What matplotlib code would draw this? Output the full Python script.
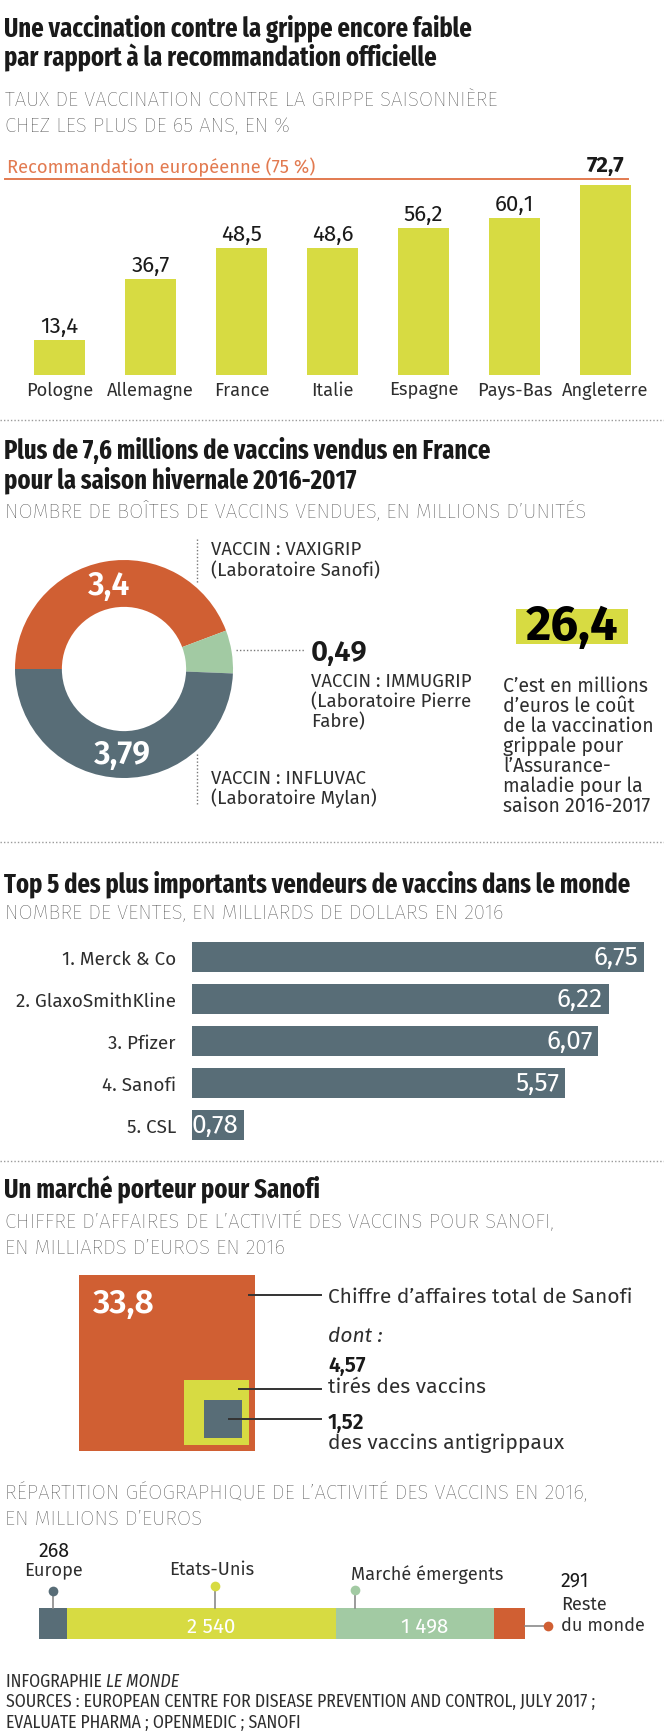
import numpy as np
import matplotlib
matplotlib.use('Agg')
import matplotlib.pyplot as plt
from matplotlib.patches import Rectangle

# --- données ---
pays = ['Pologne', 'Allemagne', 'France', 'Italie', 'Espagne', 'Pays-Bas', 'Angleterre']
taux = [13.4, 36.7, 48.5, 48.6, 56.2, 60.1, 72.7]
recommandation = 75

vaccins = ['VAXIGRIP', 'IMMUGRIP', 'INFLUVAC']
laboratoires = ['Sanofi', 'Pierre Fabre', 'Mylan']
boites = [3.4, 0.49, 3.79]
cout_assurance = 26.4

vendeurs = ['1. Merck & Co', '2. GlaxoSmithKline', '3. Pfizer', '4. Sanofi', '5. CSL']
ventes = [6.75, 6.22, 6.07, 5.57, 0.78]

ca_libelles = ['Chiffre d\u2019affaires total de Sanofi', 'tirés des vaccins', 'des vaccins antigrippaux']
ca_sanofi = [33.8, 4.57, 1.52]

regions = ['Europe', 'Etats-Unis', 'Marché émergents', 'Reste du monde']
activite = [268, 2540, 1498, 291]

# --- couleurs / polices ---
YELLOW = '#d7db42'
ORANGE = '#d05f33'
SLATE = '#586d77'
GREEN = '#a2caa3'
REC = '#e27a50'
DARK = '#1a1a1a'
TXT = '#2e2e2e'
GRAY = '#454545'
FIRA = ['Fira Sans', 'DejaVu Sans']
FIRA_C = ['Fira Sans Condensed', 'DejaVu Sans']
FIRA_XC = ['Fira Sans Extra Condensed', 'Fira Sans Condensed', 'DejaVu Sans']

W, H = 664, 1733
fig = plt.figure(figsize=(W / 100, H / 100), dpi=100)
canvas = fig.add_axes([0, 0, 1, 1])
canvas.set_xlim(0, W)
canvas.set_ylim(H, 0)
canvas.axis('off')
renderer = fig.canvas.get_renderer()


def px_axes(x0, y0, x1, y1):
    return fig.add_axes([x0 / W, 1 - y1 / H, (x1 - x0) / W, (y1 - y0) / H])


def fitted(ref, width, **kw):
    # taille de police pour que `ref` fasse `width` pixels de large
    t = canvas.text(0, 0, ref, fontsize=10, **kw)
    w = t.get_window_extent(renderer).width
    t.remove()
    return dict(kw, fontsize=10 * width / w)


def fr(v):
    return str(v).replace('.', ',')


def txt(x, y, s, st, **kw):
    kw.setdefault('va', 'baseline')
    return canvas.text(x, y, s, **st, **kw)


def title(y, lines, width):
    st = fitted(lines[0], width, family=FIRA_XC, fontweight='bold', color=DARK)
    for k, line in enumerate(lines):
        txt(4, y + 29 * k, line, st)


def separator(y):
    canvas.plot([0, W], [y, y], color='#9a9a9a', lw=1, ls=(0, (1, 1.5)))


S = fitted('NOMBRE DE BOÎTES DE VACCINS VENDUES, EN MILLIONS D\u2019UNITÉS', 584,
           family=FIRA, fontweight='light', color=GRAY)
F = fitted('SOURCES : EUROPEAN CENTRE FOR DISEASE PREVENTION AND CONTROL, JULY 2017 ;', 587,
           family=FIRA_C, color=TXT)

# ============ 1. taux de vaccination ============
title(37, ['Une vaccination contre la grippe encore faible',
           'par rapport à la recommandation officielle'], 468)
txt(5, 106, 'TAUX DE VACCINATION CONTRE LA GRIPPE SAISONNIÈRE', S)
txt(5, 132, 'CHEZ LES PLUS DE 65 ANS, EN %', S)

CAT = fitted('Allemagne', 86.5, family=FIRA, color=TXT)
VAL = fitted('13,4', 38, family=FIRA, color=DARK)
ax1 = px_axes(14, 180, 651, 376)
ax1.set_xlim(-0.5, len(pays) - 0.5)
ax1.set_ylim(0, recommandation)
ax1.bar(range(len(pays)), taux, width=0.55, color=YELLOW)
ax1.axhline(recommandation, xmin=-9 / 637, xmax=614 / 637, color=REC, lw=1.4, clip_on=False)
imax = int(np.argmax(taux))
for i, v in enumerate(taux):
    bold = i == imax
    # la valeur max passe au-dessus de la ligne de recommandation
    ax1.annotate(fr(v), (i, recommandation if bold else v), xytext=(0, 6),
                 textcoords='offset points', ha='center', va='baseline',
                 fontweight='bold' if bold else 'normal', **VAL)
ax1.set_xticks(range(len(pays)), pays, **CAT)
ax1.tick_params(axis='x', length=0, pad=4)
ax1.set_yticks([])
for s in ax1.spines.values():
    s.set_visible(False)
ax1.patch.set_alpha(0)
RECS = fitted('Recommandation européenne (75 %)', 308, family=FIRA, color=REC)
txt(7, 173, f'Recommandation européenne ({recommandation} %)', RECS)

separator(421)

# ============ 2. donut ============
title(459, ['Plus de 7,6 millions de vaccins vendus en France',
            'pour la saison hivernale 2016-2017'], 488)
txt(5, 518, 'NOMBRE DE BOÎTES DE VACCINS VENDUES, EN MILLIONS D\u2019UNITÉS', S)

RING = fitted('3,79', 57, family=FIRA, fontweight='semibold', color='white')
axd = px_axes(15, 561, 233, 779)
wedges, _ = axd.pie(boites, colors=[ORANGE, GREEN, SLATE], startangle=180,
                    counterclock=False, radius=1,
                    wedgeprops=dict(width=0.43, edgecolor='none'))
axd.set_xlim(-1, 1)
axd.set_ylim(-1, 1)
for w, v in zip(wedges, boites):
    if v < 1:
        continue
    a = np.deg2rad((w.theta1 + w.theta2) / 2)
    axd.text(0.785 * np.cos(a), 0.785 * np.sin(a), fr(v), ha='center', va='center', **RING)

dot = dict(color='#777777', lw=1, ls=(0, (1, 1.5)))
canvas.plot([197, 197], [540, 585], **dot)
canvas.plot([197, 197], [755, 807], **dot)
canvas.plot([236, 304], [651, 651], **dot)

LAB = fitted('(Laboratoire Sanofi)', 168, family=FIRA, color=TXT)
BIGN = fitted('0,49', 57, family=FIRA, fontweight='semibold', color=DARK)
txt(211, 555, f'VACCIN : {vaccins[0]}', LAB)
txt(211, 576, f'(Laboratoire {laboratoires[0]})', LAB)
txt(311, 661, fr(boites[1]), BIGN)
txt(311, 687, f'VACCIN : {vaccins[1]}', LAB)
txt(311, 707, '(Laboratoire Pierre', LAB)
txt(311, 727, 'Fabre)', LAB)
txt(211, 784, f'VACCIN : {vaccins[2]}', LAB)
txt(211, 804, f'(Laboratoire {laboratoires[2]})', LAB)

canvas.add_patch(Rectangle((516, 610), 112, 35, color=YELLOW, lw=0))
BIG = fitted('26,4', 92, family=FIRA, fontweight='bold', color='black')
txt(572, 627, fr(cout_assurance), BIG, ha='center', va='center')
PAR = fitted('de la vaccination', 150, family=FIRA, color=TXT)
para = ['C\u2019est en millions', 'd\u2019euros le coût', 'de la vaccination',
        'grippale pour', 'l\u2019Assurance-', 'maladie pour la', 'saison 2016-2017']
for k, line in enumerate(para):
    txt(503, 692 + 20 * k, line, PAR)

separator(843)

# ============ 3. top 5 ============
title(892, ['Top 5 des plus importants vendeurs de vaccins dans le monde'], 629)
txt(5, 919, 'NOMBRE DE VENTES, EN MILLIARDS DE DOLLARS EN 2016', S)

TL = fitted('2. GlaxoSmithKline', 159, family=FIRA, color=TXT)
TV = fitted('6,75', 45, family=FIRA, color='white')
ax3 = px_axes(192, 937, 644, 1147)
ax3.set_xlim(0, max(ventes))
ax3.set_ylim(len(ventes) - 0.5, -0.5)
ax3.barh(range(len(ventes)), ventes, height=0.714, color=SLATE)
for i, v in enumerate(ventes):
    ax3.annotate(f'{v:.2f}'.replace('.', ','), (v, i), xytext=(-4, 0),
                 textcoords='offset points', ha='right', va='center', **TV)
ax3.set_yticks(range(len(ventes)), vendeurs, **TL)
ax3.tick_params(axis='y', length=0, pad=16 * 0.72)
ax3.set_xticks([])
for s in ax3.spines.values():
    s.set_visible(False)
ax3.patch.set_alpha(0)

separator(1162)

# ============ 4. Sanofi ============
title(1198, ['Un marché porteur pour Sanofi'], 316)
txt(5, 1228, 'CHIFFRE D\u2019AFFAIRES DE L\u2019ACTIVITÉ DES VACCINS POUR SANOFI,', S)
txt(5, 1254, 'EN MILLIARDS D\u2019EUROS EN 2016', S)

# carrés proportionnels (surface = valeur)
k = 176 / np.sqrt(ca_sanofi[0])
sides = [k * np.sqrt(v) for v in ca_sanofi]
x0, y0 = 79, 1276
right, bottom = x0 + sides[0], y0 + sides[0]
for s, c, ins in zip(sides, [ORANGE, YELLOW, SLATE], [0, 6.5, 7]):
    right -= ins
    bottom -= ins
    canvas.add_patch(Rectangle((right - s, bottom - s), s, s, color=c, lw=0))
SQ = fitted('33,8', 62, family=FIRA, fontweight='semibold', color='white')
txt(93, 1313, fr(ca_sanofi[0]), SQ)

lead = dict(color='#333333', lw=1.4)
canvas.plot([249, 321], [1296, 1296], **lead)
canvas.plot([239, 321], [1390, 1390], **lead)
canvas.plot([229, 321], [1420, 1420], **lead)
B4 = fitted(ca_libelles[0], 303, family=FIRA, color=TXT)
B4b = dict(B4, fontweight='semibold', color=DARK)
txt(328, 1303, ca_libelles[0], B4)
txt(328, 1342, 'dont :', B4, style='italic')
txt(328, 1372, fr(ca_sanofi[1]), B4b)
txt(328, 1393, ca_libelles[1], B4)
txt(328, 1429, fr(ca_sanofi[2]), B4b)
txt(328, 1449, ca_libelles[2], B4)

# ============ 5. répartition géographique ============
txt(5, 1499, 'RÉPARTITION GÉOGRAPHIQUE DE L\u2019ACTIVITÉ DES VACCINS EN 2016,', S)
txt(5, 1525, 'EN MILLIONS D\u2019EUROS', S)

total = sum(activite)
lefts = np.cumsum([0] + activite[:-1])
seg_colors = [SLATE, YELLOW, GREEN, ORANGE]
ax5 = px_axes(39, 1609, 525, 1640)
ax5.set_xlim(0, total)
ax5.set_ylim(-0.5, 0.5)
ax5.barh(0, activite, left=lefts, height=1, color=seg_colors)
ax5.axis('off')

upx = 1 / 31  # une unité y = 31 px
pin_frac = [0.5, 0.55, 0.12]
pin_h = [17, 22, 18]
for j in range(3):
    xp = lefts[j] + pin_frac[j] * activite[j]
    yt = 0.5 + pin_h[j] * upx
    ax5.plot([xp, xp], [0.5, yt], color='#8a8a8a', lw=1.2, clip_on=False)
    ax5.plot(xp, yt, 'o', ms=7, mew=0, color=seg_colors[j], clip_on=False)
xr = total + 23 * total / 486
ax5.plot([total, xr], [-0.08, -0.08], color='#8a8a8a', lw=1.2, clip_on=False)
ax5.plot(xr, -0.08, 'o', ms=7, mew=0, color=seg_colors[3], clip_on=False)
INB = fitted('2 540', 48, family=FIRA, color='white')
for j in (1, 2):
    ax5.annotate(f'{activite[j]:,}'.replace(',', ' '), (lefts[j] + activite[j] / 2, -0.08),
                 xytext=(7, 0), textcoords='offset points', ha='center', va='center', **INB)

RG = fitted('Etats-Unis', 85, family=FIRA, color=TXT)
RN = fitted('268', 31, family=FIRA, color=DARK)
txt(54, 1557, str(activite[0]), RN, ha='center')
txt(53, 1575, regions[0], RG, ha='center')
txt(212, 1575, regions[1], RG, ha='center')
txt(427, 1580, regions[2], RG, ha='center')
txt(561, 1587, str(activite[3]), RN)
txt(561, 1610, 'Reste', RG)
txt(561, 1631, 'du monde', RG)

# --- pied ---
t = txt(6, 1687, 'INFOGRAPHIE ', F)
bb = t.get_window_extent(renderer)
txt(6 + bb.width, 1687, 'LE MONDE', F, style='italic')
txt(6, 1707, 'SOURCES : EUROPEAN CENTRE FOR DISEASE PREVENTION AND CONTROL, JULY 2017 ;', F)
txt(6, 1728, 'EVALUATE PHARMA ; OPENMEDIC ; SANOFI', F)

fig.savefig('out.png', dpi=100, facecolor='white')
